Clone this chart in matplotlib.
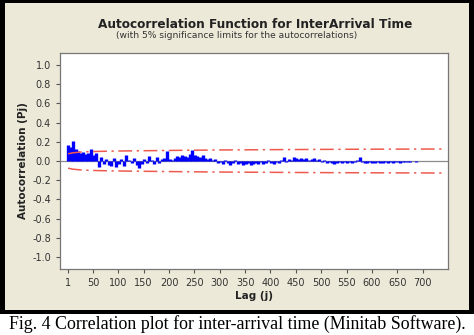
import numpy as np
import matplotlib
matplotlib.use("Agg")
import matplotlib.pyplot as plt
from matplotlib.patches import Rectangle

# ACF estimates, one value per 5 lags (lag 1, 6, 11, ...)
acf_vals = [
    0.17, 0.15, 0.21, 0.12, 0.10, 0.08, 0.09, 0.07, 0.08, 0.12,
    0.06, 0.08, -0.06, 0.04, -0.03, 0.02, -0.04, -0.05, 0.03, -0.06,
    -0.03, 0.02, -0.05, 0.06, 0.01, -0.02, 0.03, -0.04, -0.07, -0.03,
    0.02, -0.02, 0.05, 0.01, -0.03, 0.04, -0.02, 0.02, 0.03, 0.10,
    0.02, 0.01, 0.03, 0.05, 0.04, 0.06, 0.05, 0.04, 0.07, 0.11,
    0.06, 0.05, 0.04, 0.06, 0.03, 0.02, 0.03, 0.01, 0.02, -0.02,
    -0.01, -0.03, 0.01, -0.02, -0.04, -0.02, 0.01, -0.03, -0.02, -0.04,
    -0.03, -0.02, -0.04, -0.03, -0.02, -0.03, -0.01, -0.03, -0.02, 0.01,
    -0.02, -0.03, -0.01, -0.02, 0.01, 0.04, -0.01, 0.02, 0.01, 0.04,
    0.03, 0.02, 0.03, 0.02, 0.03, 0.01, 0.02, 0.03, 0.01, 0.02,
    -0.01, 0.01, -0.02, -0.01, -0.02, -0.03, -0.02, -0.01, -0.02, -0.01,
    -0.02, -0.01, -0.02, -0.01, 0.01, 0.04, -0.01, -0.02, -0.02, -0.01,
    -0.02, -0.02, -0.01, -0.02, -0.02, -0.01, -0.02, -0.01, -0.02, -0.01,
    -0.01, -0.02, -0.01, -0.01, -0.01, -0.01, -0.005, -0.01, -0.005, -0.005,
    -0.005, -0.005, 0.005, 0.005,
]
acf_lags = list(range(1, 5 * len(acf_vals) + 1, 5))

# 5% significance limits (upper; lower is the mirror)
lim_lags = [1, 10, 30, 60, 100, 200, 300, 400, 500, 600, 740]
lim_vals = [0.075, 0.085, 0.095, 0.100, 0.104, 0.110, 0.115, 0.118, 0.121, 0.123, 0.125]

xticks = [1, 50, 100, 150, 200, 250, 300, 350, 400, 450, 500, 550, 600, 650, 700]
yticks = [-1.0, -0.8, -0.6, -0.4, -0.2, 0.0, 0.2, 0.4, 0.6, 0.8, 1.0]

W, H = 474, 335
fig = plt.figure(figsize=(W / 100, H / 100), dpi=100, facecolor="white")

# frame and beige panel
fig.patches.append(Rectangle((0, 1 - 314 / H), 1, 314 / H, transform=fig.transFigure,
                             facecolor="black", edgecolor="none", zorder=-3))
fig.patches.append(Rectangle((5 / W, 1 - 310 / H), 464 / W, 307 / H, transform=fig.transFigure,
                             facecolor="#ECE9D8", edgecolor="none", zorder=-2))

ax = fig.add_axes([60 / W, 1 - 269 / H, 388 / W, 216 / H])
ax.set_facecolor("white")

ax.axhline(0, color="#8c8c8c", lw=0.9, zorder=1)
ax.vlines(acf_lags, 0, acf_vals, color="#0000ff", lw=2.4, zorder=2)
lim = np.array(lim_vals)
ax.plot(lim_lags, lim, color="#ee5a4f", lw=1.1, ls=(0, (9, 3, 1.5, 3)), zorder=3)
ax.plot(lim_lags, -lim, color="#ee5a4f", lw=1.1, ls=(0, (9, 3, 1.5, 3)), zorder=3)

ax.set_xlim(-15, 750)
ax.set_ylim(-1.125, 1.125)
ax.set_xticks(xticks)
ax.set_yticks(yticks)
ax.set_yticklabels([f"{v:.1f}" for v in yticks])
ax.tick_params(direction="out", length=3, width=0.8, colors="#555555",
               labelcolor="#333333", labelsize=7)
for s in ax.spines.values():
    s.set_color("#777777")
    s.set_linewidth(0.9)

ax.set_xlabel("Lag (j)", fontsize=7.5, fontweight="bold", color="#222222", labelpad=2)
ax.set_ylabel("Autocorrelation (Pj)", fontsize=7.5, fontweight="bold", color="#222222", labelpad=3)

fig.text(255 / W, 1 - 24 / H, "Autocorrelation Function for InterArrival Time",
         ha="center", va="center", fontsize=8.7, fontweight="bold", color="#222222")
fig.text(237 / W, 1 - 35 / H, "(with 5% significance limits for the autocorrelations)",
         ha="center", va="center", fontsize=6.6, color="#333333")

fig.text(237 / W, 1 - 324 / H, "Fig. 4 Correlation plot for inter-arrival time (Minitab Software).",
         ha="center", va="center", fontsize=12.9, family="Liberation Serif", color="black")

fig.savefig("out.png", dpi=100)
